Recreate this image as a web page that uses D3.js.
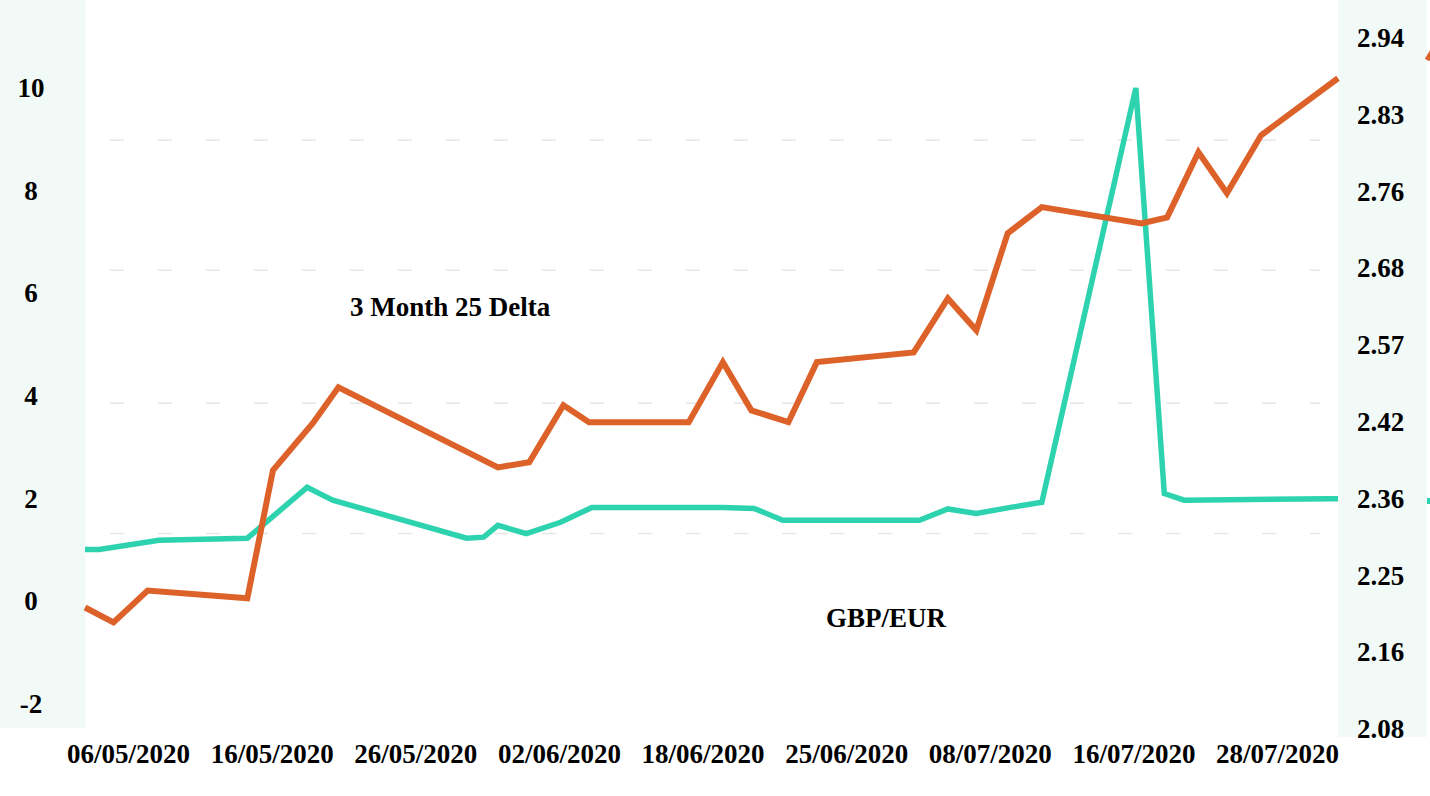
<!DOCTYPE html>
<html>
<head>
<meta charset="utf-8">
<script src="https://cdn.jsdelivr.net/npm/d3@7"></script>
<style>
  html, body { margin: 0; padding: 0; background: #fff; }
  svg { display: block; }
  text { font-family: 'Liberation Serif', 'DejaVu Serif', serif; font-weight: bold; fill: #000; }
</style>
</head>
<body>
<svg width="1430" height="796"></svg>
<script>
// dates on the category axis
const dateLabels = ['06/05/2020', '16/05/2020', '26/05/2020', '02/06/2020', '18/06/2020',
  '25/06/2020', '08/07/2020', '16/07/2020', '28/07/2020'];
const leftTicks = [-2, 0, 2, 4, 6, 8, 10];
const rightLabels = ['2.08', '2.16', '2.25', '2.36', '2.42', '2.57', '2.68', '2.76', '2.83', '2.94'];

// 3 Month 25 Delta (trading-day index, value)
const deltaDay = [0, 1, 2.2, 5.7, 6.6, 8.0, 8.9, 14.5, 15.6, 16.8, 17.7, 21.2, 22.4, 23.4, 24.7,
  25.7, 29.1, 30.3, 31.3, 32.4, 33.6, 37.1, 38.0, 39.1, 40.1, 41.3, 44];
const deltaVal = [-0.12, -0.41, 0.21, 0.06, 2.55, 3.47, 4.17, 2.61, 2.71, 3.82, 3.49, 3.49, 4.66, 3.72, 3.49,
  4.66, 4.85, 5.90, 5.28, 7.17, 7.68, 7.36, 7.48, 8.75, 7.95, 9.08, 10.19];

// GBP/EUR
const gbpDay = [0, 0.5, 2.6, 5.7, 7.8, 8.7, 13.4, 14.0, 14.5, 15.5, 16.7, 17.8, 22.4, 23.5, 24.5,
  29.3, 30.3, 31.3, 32.5, 33.6, 36.9, 37.9, 38.6, 43.7, 44];
const gbpVal = [1.01, 1.01, 1.19, 1.23, 2.22, 1.97, 1.23, 1.25, 1.48, 1.32, 1.54, 1.83, 1.83, 1.81, 1.58,
  1.58, 1.80, 1.71, 1.83, 1.93, 10.0, 2.10, 1.97, 2.0, 2.0];

// faint background grid levels (left units)
const gridVals = [1.32, 3.86, 6.45, 8.98];

const fontSize = '27px';
const svg = d3.select('svg');

// side panels
svg.append('rect')
  .attr('x', 0).attr('y', 0).attr('width', 85).attr('height', 728)
  .attr('fill', '#f1faf7');
svg.append('rect')
  .attr('x', 1338).attr('y', 0).attr('width', 89).attr('height', 737)
  .attr('fill', '#f1faf7');

const x = d3.scaleLinear().domain([0, 44]).range([85, 1338]);
const yL = d3.scaleLinear().domain([-2, 10]).range([704, 88]);
const yR = d3.scaleLinear().domain([0, rightLabels.length - 1]).range([729, 38]);
const xLab = d3.scalePoint().domain(dateLabels).range([128, 1277]);

// grid
svg.append('g').selectAll('line')
  .data(gridVals)
  .join('line')
  .attr('x1', 110).attr('x2', 1320)
  .attr('y1', d => yL(d)).attr('y2', d => yL(d))
  .attr('stroke', '#e6e6e6')
  .attr('stroke-width', 1.5)
  .attr('stroke-dasharray', '14 34');

function styleTicks(sel) {
  sel.selectAll('text')
    .style('font-size', fontSize)
    .style('font-family', "'Liberation Serif', serif")
    .style('font-weight', 'bold')
    .attr('fill', '#000');
}

// left axis
const leftAxis = svg.append('g')
  .attr('transform', 'translate(44, 0)')
  .call(d3.axisLeft(yL).tickValues(leftTicks).tickFormat(d => String(d)).tickSize(0).tickPadding(0));
leftAxis.select('.domain').remove();
leftAxis.selectAll('text')
  .attr('x', -13)
  .attr('text-anchor', 'middle');
styleTicks(leftAxis);

// right axis
const rightAxis = svg.append('g')
  .attr('transform', 'translate(1357, 0)')
  .call(d3.axisRight(yR).tickValues(d3.range(rightLabels.length))
    .tickFormat(i => rightLabels[i]).tickSize(0).tickPadding(0));
rightAxis.select('.domain').remove();
styleTicks(rightAxis);

// bottom axis
const bottomAxis = svg.append('g')
  .attr('transform', 'translate(0, 754)')
  .call(d3.axisBottom(xLab).tickSize(0).tickPadding(0));
bottomAxis.select('.domain').remove();
bottomAxis.selectAll('text').attr('dy', '0.35em');
styleTicks(bottomAxis);

const line = d3.line()
  .x(d => x(d[0]))
  .y(d => yL(d[1]));

svg.append('path')
  .datum(gbpDay.map((d, i) => [d, gbpVal[i]]))
  .attr('d', line)
  .attr('fill', 'none')
  .attr('stroke', '#2dd2ae')
  .attr('stroke-width', 5.5)
  .attr('stroke-linejoin', 'miter');

svg.append('path')
  .datum(deltaDay.map((d, i) => [d, deltaVal[i]]))
  .attr('d', line)
  .attr('fill', 'none')
  .attr('stroke', '#dc6229')
  .attr('stroke-width', 6)
  .attr('stroke-linejoin', 'miter');

// clipped marks at the far right edge
svg.append('line')
  .attr('x1', 1427).attr('y1', 60).attr('x2', 1433).attr('y2', 50)
  .attr('stroke', '#dc6229').attr('stroke-width', 5);
svg.append('line')
  .attr('x1', 1427).attr('y1', 501).attr('x2', 1433).attr('y2', 501)
  .attr('stroke', '#2dd2ae').attr('stroke-width', 6);

// series labels
svg.append('text')
  .attr('x', 350).attr('y', 316)
  .style('font-size', fontSize)
  .text('3 Month 25 Delta');
svg.append('text')
  .attr('x', 826).attr('y', 627)
  .style('font-size', fontSize)
  .text('GBP/EUR');
</script>
</body>
</html>
